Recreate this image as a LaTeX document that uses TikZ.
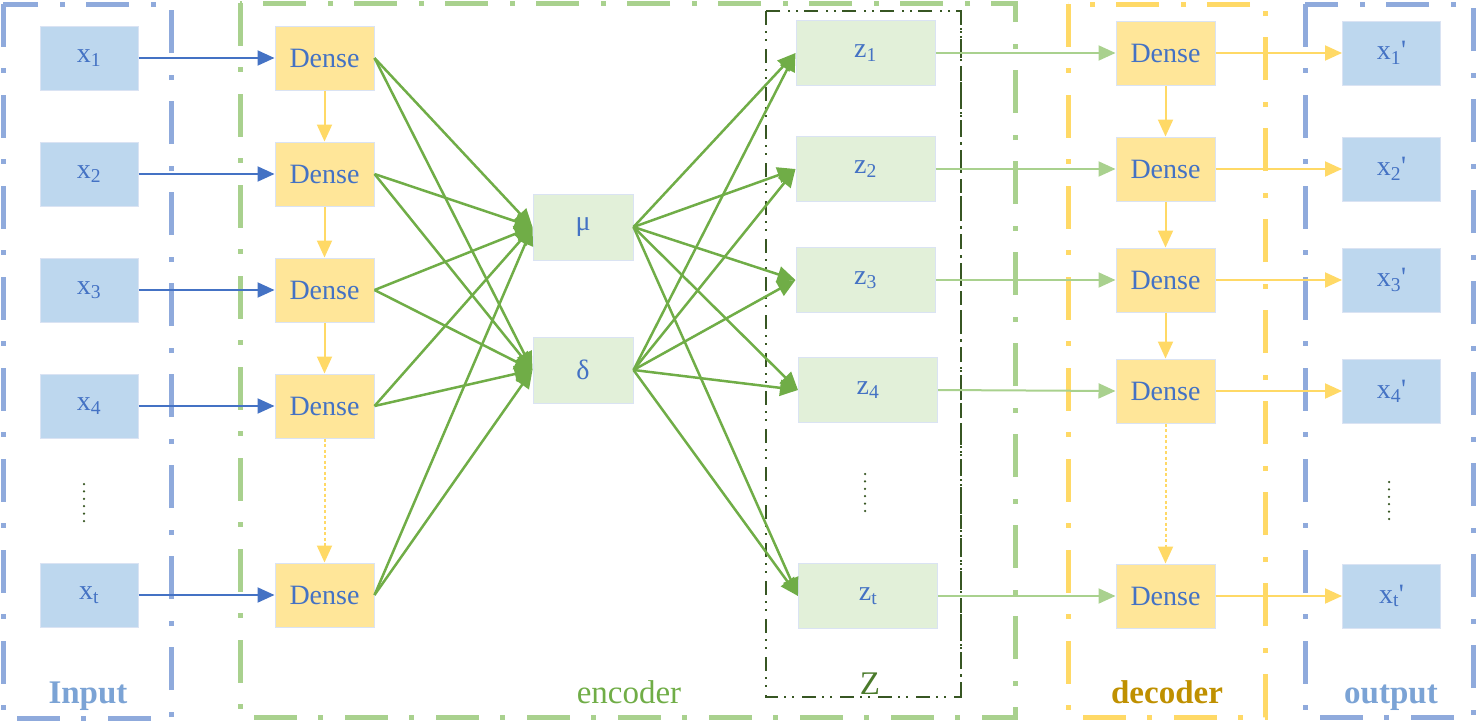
\documentclass[tikz,border=0pt]{standalone}
\usepackage{fontspec}
\setmainfont{Liberation Serif}[Ligatures=TeXOff]
\usetikzlibrary{arrows.meta}
\definecolor{bfill}{HTML}{BDD7EE}
\definecolor{yfill}{HTML}{FFE699}
\definecolor{gfill}{HTML}{E2F0D9}
\definecolor{bline}{HTML}{DAE3F3}
\definecolor{txtblue}{HTML}{4472C4}
\definecolor{arrblue}{HTML}{4472C4}
\definecolor{arrgreen}{HTML}{70AD47}
\definecolor{arrlgreen}{HTML}{A9D18E}
\definecolor{arryellow}{HTML}{FFD966}
\definecolor{frblue}{HTML}{8FAADC}
\definecolor{frgreen}{HTML}{A9D18E}
\definecolor{fryellow}{HTML}{FFD966}
\definecolor{frz}{HTML}{375623}
\definecolor{dotcol}{HTML}{385723}
\definecolor{lblblue}{HTML}{7BA3D5}
\definecolor{lblgreen}{HTML}{70AD47}
\definecolor{lblgold}{HTML}{BF9000}
\definecolor{lblz}{HTML}{4A7A2B}
\begin{document}
\begin{tikzpicture}[x=1pt,y=-1pt,
  frame/.style={line width=5pt, dash pattern=on 43pt off 21pt on 5pt off 22pt},
  zframe/.style={draw=frz, line width=1.3pt, dash pattern=on 14pt off 6pt on 2pt off 6pt on 2pt off 8pt},
  boxbase/.style={draw=bline, line width=1pt, inner sep=0pt, text=txtblue, font=\fontsize{28pt}{32pt}\selectfont},
  xbox/.style={boxbase, fill=bfill, minimum width=98pt, minimum height=64pt},
  dbox/.style={boxbase, fill=yfill, minimum width=99pt, minimum height=64pt},
  gbox/.style={boxbase, fill=gfill, minimum width=100pt, minimum height=66pt},
  zbox/.style={boxbase, fill=gfill, minimum width=139pt, minimum height=65pt},
  tip/.style={-{Triangle[length=17pt,width=15pt]}},
  barr/.style={tip, draw=arrblue, line width=2pt},
  garr/.style={-{Triangle[length=18pt,width=16pt]}, draw=arrgreen, line width=2.5pt},
  lgarr/.style={tip, draw=arrlgreen, line width=2pt},
  yarr/.style={tip, draw=arryellow, line width=2pt},
  ydot/.style={tip, draw=arryellow, line width=2pt, dash pattern=on 3pt off 2.5pt},
  ell/.style={draw=dotcol, line width=2.5pt, line cap=round, dash pattern=on 0pt off 7.4pt},
  lbl/.style={anchor=base, font=\fontsize{33pt}{38pt}\selectfont}
]
\useasboundingbox (0,0) rectangle (1478,723);

% frames
\draw[frame, frblue] (3,4) rectangle (171,718);
\draw[frame, frgreen] (240,3) rectangle (1015,717);
\draw[frame, fryellow] (1068,4) rectangle (1265,717);
\draw[frame, frblue] (1305,4) rectangle (1473,717);
\draw[zframe] (766,11) rectangle (961,697);
\draw[draw=frz, line width=2.2pt, dash pattern=on 14pt off 6pt on 2pt off 6pt] (961,11) -- (961,697);

% input boxes
\node[xbox] (x1) at (89,58) {x\textsubscript{1}};
\node[xbox] (x2) at (89,174) {x\textsubscript{2}};
\node[xbox] (x3) at (89,290) {x\textsubscript{3}};
\node[xbox] (x4) at (89,406) {x\textsubscript{4}};
\node[xbox] (xt) at (89,595) {x\textsubscript{t}};
\draw[ell] (84,484) -- (84,522);

% encoder dense
\node[dbox] (e1) at (324.5,58) {Dense};
\node[dbox] (e2) at (324.5,174) {Dense};
\node[dbox] (e3) at (324.5,290) {Dense};
\node[dbox] (e4) at (324.5,406) {Dense};
\node[dbox] (e5) at (324.5,595) {Dense};

% mu delta
\node[gbox] (mu) at (583,227) {μ};
\node[gbox] (de) at (583,370) {δ};

% z boxes
\node[zbox] (z1) at (865.5,53) {z\textsubscript{1}};
\node[zbox] (z2) at (865.5,169) {z\textsubscript{2}};
\node[zbox] (z3) at (865.5,280) {z\textsubscript{3}};
\node[zbox] (z4) at (868,390) {z\textsubscript{4}};
\node[zbox] (zt) at (868,596) {z\textsubscript{t}};
\draw[ell] (865,474) -- (865,513);

% decoder dense
\node[dbox] (d1) at (1165.5,53) {Dense};
\node[dbox] (d2) at (1165.5,169) {Dense};
\node[dbox] (d3) at (1165.5,280) {Dense};
\node[dbox] (d4) at (1165.5,391) {Dense};
\node[dbox] (d5) at (1165.5,596) {Dense};

% outputs
\node[xbox] (o1) at (1391.5,53) {x\textsubscript{1}'};
\node[xbox] (o2) at (1391.5,169) {x\textsubscript{2}'};
\node[xbox] (o3) at (1391.5,280) {x\textsubscript{3}'};
\node[xbox] (o4) at (1391.5,391) {x\textsubscript{4}'};
\node[xbox] (ot) at (1391.5,596) {x\textsubscript{t}'};
\draw[ell] (1389,482) -- (1389,520);

% input arrows
\foreach \a/\b in {x1/e1,x2/e2,x3/e3,x4/e4,xt/e5}
  \draw[barr] (\a.east) -- (\b.west);

% vertical encoder arrows
\draw[yarr] (e1.south) -- (e2.north);
\draw[yarr] (e2.south) -- (e3.north);
\draw[yarr] (e3.south) -- (e4.north);
\draw[ydot] (e4.south) -- (e5.north);

% dense -> mu/delta
\foreach \a in {e1,e2,e3,e4,e5} {
  \draw[garr] (\a.east) -- (mu.west);
  \draw[garr] (\a.east) -- (de.west);
}
% mu/delta -> z
\foreach \b in {z1,z2,z3,z4,zt} {
  \draw[garr] (mu.east) -- (\b.west);
  \draw[garr] (de.east) -- (\b.west);
}

% z -> decoder
\foreach \a/\b in {z1/d1,z2/d2,z3/d3,z4/d4,zt/d5}
  \draw[lgarr] (\a.east) -- (\b.west);

% decoder vertical
\draw[yarr] (d1.south) -- (d2.north);
\draw[yarr] (d2.south) -- (d3.north);
\draw[yarr] (d3.south) -- (d4.north);
\draw[ydot] (d4.south) -- (d5.north);

% decoder -> outputs
\foreach \a/\b in {d1/o1,d2/o2,d3/o3,d4/o4,d5/ot}
  \draw[yarr] (\a.east) -- (\b.west);

% labels
\node[lbl, text=lblblue, font=\bfseries\fontsize{33pt}{38pt}\selectfont] (lin) at (88,703) {Input};
\node[lbl, text=lblgreen] (lenc) at (629,703) {encoder};
\node[lbl, text=lblz] (lz) at (870,694) {Z};
\node[lbl, text=lblgold, font=\bfseries\fontsize{33pt}{38pt}\selectfont] (ldec) at (1167,703) {decoder};
\node[lbl, text=lblblue, font=\bfseries\fontsize{33pt}{38pt}\selectfont] (lout) at (1391,703) {output};
\end{tikzpicture}
\end{document}
